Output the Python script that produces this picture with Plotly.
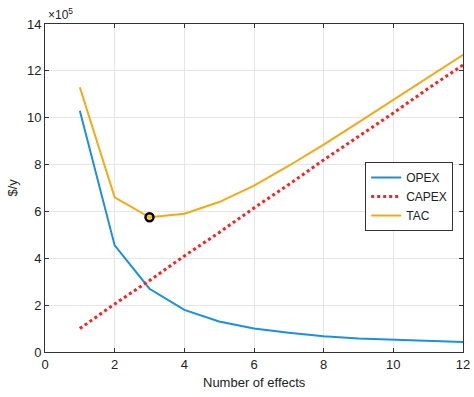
import plotly.graph_objects as go

effects = [1, 2, 3, 4, 5, 6, 7, 8, 9, 10, 11, 12]
opex = [10.3, 4.55, 2.7, 1.8, 1.3, 1.0, 0.82, 0.67, 0.58, 0.52, 0.47, 0.43]
capex = [1.0, 2.05, 3.05, 4.1, 5.1, 6.15, 7.15, 8.2, 9.2, 10.2, 11.25, 12.25]
tac = [11.3, 6.6, 5.75, 5.9, 6.4, 7.1, 7.95, 8.85, 9.8, 10.75, 11.7, 12.68]
opt_x = [3]
opt_y = [5.75]
xticks = [0, 2, 4, 6, 8, 10, 12]
yticks = [0, 2, 4, 6, 8, 10, 12, 14]

fig = go.Figure()
fig.add_trace(go.Scatter(x=effects, y=opex, mode="lines", name="OPEX",
                         line=dict(color="#1A8FE3", width=2)))
fig.add_trace(go.Scatter(x=effects, y=capex, mode="lines", name="CAPEX",
                         line=dict(color="#FF1F1F", width=3, dash="dot")))
fig.add_trace(go.Scatter(x=effects, y=tac, mode="lines", name="TAC",
                         line=dict(color="#F5A913", width=2)))
fig.add_trace(go.Scatter(x=opt_x, y=opt_y, mode="markers", showlegend=False,
                         marker=dict(size=8, color="rgba(240,200,40,0.7)",
                                     line=dict(color="black", width=2.5))))

axis_common = dict(showline=True, linecolor="#333333", linewidth=1, mirror="ticks",
                   ticks="inside", ticklen=4, tickcolor="#333333", automargin=False,
                   showgrid=True, gridcolor="#E6E6E6", gridwidth=1, zeroline=False,
                   tickfont=dict(family="Liberation Sans, Arial", size=13, color="#222222"))

fig.update_layout(
    width=474, height=397,
    margin=dict(l=45, r=11, t=24, b=45, autoexpand=False),
    paper_bgcolor="white", plot_bgcolor="white",
    font=dict(family="Liberation Sans, Arial", size=13, color="#222222"),
    xaxis=dict(range=[0, 12], tickvals=xticks, **axis_common),
    yaxis=dict(range=[0, 14], tickvals=yticks, **axis_common),
    legend=dict(x=0.766, y=0.579, xanchor="left", yanchor="top",
                bgcolor="white", bordercolor="#333333", borderwidth=1,
                font=dict(size=12), tracegroupgap=0, itemwidth=30),
    annotations=[
        dict(text="×10<sup>5</sup>", xref="paper", yref="paper",
             x=0.002, y=1.0, xanchor="left", yanchor="bottom",
             showarrow=False, font=dict(size=12, color="#222222")),
        dict(text="Number of effects", xref="paper", yref="paper",
             x=0.5, y=-0.065, xanchor="center", yanchor="top",
             showarrow=False, font=dict(size=13, color="#222222")),
        dict(text="$/y", xref="paper", yref="paper", textangle=-90,
             x=-0.08, y=0.5, xanchor="center", yanchor="middle",
             showarrow=False, font=dict(size=13, color="#222222")),
    ],
    showlegend=True,
)

fig.write_html("out.html", config={"displayModeBar": False},
               post_script="document.body.style.margin='0';document.body.style.overflow='hidden';")
